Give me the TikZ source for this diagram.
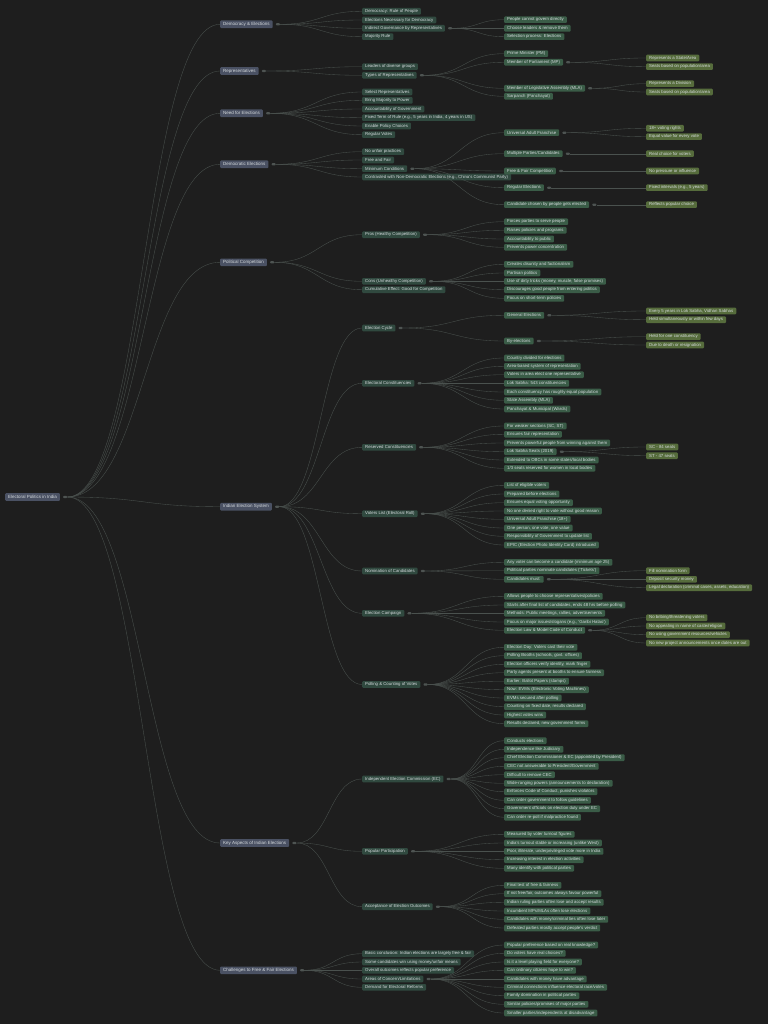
\documentclass[tikz,border=0pt]{standalone}
\usepackage{fontspec}
\setmainfont{Liberation Sans}
\usetikzlibrary{calc}
\definecolor{bg}{HTML}{1E1E1E}
\definecolor{c1}{HTML}{4A5163}
\definecolor{c2}{HTML}{30493F}
\definecolor{c3}{HTML}{3A5C47}
\definecolor{c4}{HTML}{566C3C}
\definecolor{txt}{HTML}{D4D9DC}
\definecolor{edgec}{HTML}{4A514E}
\definecolor{mkc}{HTML}{4E5452}
\newcommand\mmbranch[2]{%
  \node[mk] (m#1) at ([xshift=5pt]#1.east) {};
  \foreach \kid in {#2}{\draw[edge] let \p1=(m#1.east), \p2=(\kid.west) in (\p1) .. controls ({(\x1+\x2)/2},\y1) and ({(\x1+\x2)/2},\y2) .. (\p2);}}
\tikzset{
  base/.style={rounded corners=1pt, inner xsep=3pt, inner ysep=0pt, minimum height=6.6pt, text=txt, font=\fontsize{4.3}{4.5}\selectfont, anchor=west},
  l1/.style={base, fill=c1, minimum height=7.6pt, font=\fontsize{4.5}{4.7}\selectfont},
  l2/.style={base, fill=c2},
  l3/.style={base, fill=c3},
  l4/.style={base, fill=c4},
  mk/.style={fill=mkc, rounded corners=0.8pt, minimum width=4pt, minimum height=2.2pt, inner sep=0pt},
  edge/.style={draw=edgec, line width=0.35pt}
}
\begin{document}
\begin{tikzpicture}[x=1pt,y=-1pt]
\fill[bg] (0,0) rectangle (768,1024);
% root
\node[l1] (R) at (5,497) {Electoral Politics in India};
% level 1
\node[l1] (A) at (220,24.3) {Democracy \& Elections};
\node[l1] (B) at (220,71) {Representatives};
\node[l1] (C) at (220,113.3) {Need for Elections};
\node[l1] (D) at (220,164.3) {Democratic Elections};
\node[l1] (E) at (220,262.3) {Political Competition};
\node[l1] (F) at (220,506.7) {Indian Election System};
\node[l1] (G) at (220,843) {Key Aspects of Indian Elections};
\node[l1] (H) at (220,970.3) {Challenges to Free \& Fair Elections};
% A
\node[l2] (a1) at (362,11.3) {Democracy: Rule of People};
\node[l2] (a2) at (362,20) {Elections Necessary for Democracy};
\node[l2] (a3) at (362,28.3) {Indirect Governance by Representatives};
\node[l2] (a4) at (362,36.7) {Majority Rule};
\node[l3] (a31) at (504,19.7) {People cannot govern directly};
\node[l3] (a32) at (504,28.3) {Choose leaders \& remove them};
\node[l3] (a33) at (504,36.7) {Selection process: Elections};
% B
\node[l2] (b1) at (362,66.7) {Leaders of diverse groups};
\node[l2] (b2) at (362,75.3) {Types of Representatives};
\node[l3] (b21) at (504,53.7) {Prime Minister (PM)};
\node[l3] (b22) at (504,62.3) {Member of Parliament (MP)};
\node[l3] (b23) at (504,88.3) {Member of Legislative Assembly (MLA)};
\node[l3] (b24) at (504,96.3) {Sarpanch (Panchayat)};
\node[l4] (b221) at (646,58) {Represents a State/Area};
\node[l4] (b222) at (646,66.7) {Seats based on population/area};
\node[l4] (b231) at (646,83.7) {Represents a Division};
\node[l4] (b232) at (646,92) {Seats based on population/area};
% C
\node[l2] (c1) at (362,92) {Select Representatives};
\node[l2] (c2) at (362,100.3) {Bring Majority to Power};
\node[l2] (c3) at (362,109) {Accountability of Government};
\node[l2] (c4) at (362,117.7) {Fixed Term of Rule (e.g., 5 years in India, 4 years in US)};
\node[l2] (c5) at (362,126) {Enable Policy Choices};
\node[l2] (c6) at (362,134.7) {Regular Votes};
% D
\node[l2] (d1) at (362,151.7) {No unfair practices};
\node[l2] (d2) at (362,160) {Free and Fair};
\node[l2] (d3) at (362,168.7) {Minimum Conditions};
\node[l2] (d4) at (362,177) {Contrasted with Non-Democratic Elections (e.g., China's Communist Party)};
\node[l3] (d31) at (504,132.7) {Universal Adult Franchise};
\node[l3] (d32) at (504,153.7) {Multiple Parties/Candidates};
\node[l3] (d33) at (504,171) {Free \& Fair Competition};
\node[l3] (d34) at (504,187.7) {Regular Elections};
\node[l3] (d35) at (504,204.7) {Candidate chosen by people gets elected};
\node[l4] (d311) at (646,128.3) {18+ voting rights};
\node[l4] (d312) at (646,136.7) {Equal value for every vote};
\node[l4] (d321) at (646,153.7) {Real choice for voters};
\node[l4] (d331) at (646,171) {No pressure or influence};
\node[l4] (d341) at (646,187.7) {Fixed intervals (e.g., 5 years)};
\node[l4] (d351) at (646,204.7) {Reflects popular choice};
% E
\node[l2] (e1) at (362,234.7) {Pros (Healthy Competition)};
\node[l2] (e2) at (362,281.3) {Cons (Unhealthy Competition)};
\node[l2] (e3) at (362,289.7) {Cumulative Effect: Good for Competition};
\node[l3] (e11) at (504,221.7) {Forces parties to serve people};
\node[l3] (e12) at (504,230.3) {Raises policies and programs};
\node[l3] (e13) at (504,239) {Accountability to public};
\node[l3] (e14) at (504,247.3) {Prevents power concentration};
\node[l3] (e21) at (504,264.3) {Creates disunity and factionalism};
\node[l3] (e22) at (504,273) {Partisan politics};
\node[l3] (e23) at (504,281.3) {Use of dirty tricks (money, muscle, false promises)};
\node[l3] (e24) at (504,289.7) {Discourages good people from entering politics};
\node[l3] (e25) at (504,298.3) {Focus on short-term policies};
% F
\node[l2] (f1) at (362,328) {Election Cycle};
\node[l2] (f2) at (362,383.3) {Electoral Constituencies};
\node[l2] (f3) at (362,447.3) {Reserved Constituencies};
\node[l2] (f4) at (362,513.7) {Voters List (Electoral Roll)};
\node[l2] (f5) at (362,571) {Nomination of Candidates};
\node[l2] (f6) at (362,613.3) {Election Campaign};
\node[l2] (f7) at (362,684.5) {Polling \& Counting of Votes};
\node[l3] (f11) at (504,315.3) {General Elections};
\node[l3] (f12) at (504,341) {By-elections};
\node[l4] (f111) at (646,311) {Every 5 years in Lok Sabha, Vidhan Sabhas};
\node[l4] (f112) at (646,319.7) {Held simultaneously or within few days};
\node[l4] (f121) at (646,336.7) {Held for one constituency};
\node[l4] (f122) at (646,345) {Due to death or resignation};
\node[l3] (f21) at (504,358) {Country divided for elections};
\node[l3] (f22) at (504,366.3) {Area-based system of representation};
\node[l3] (f23) at (504,374.7) {Voters in area elect one representative};
\node[l3] (f24) at (504,383.3) {Lok Sabha: 543 constituencies};
\node[l3] (f25) at (504,392) {Each constituency has roughly equal population};
\node[l3] (f26) at (504,400.3) {State Assembly (MLA)};
\node[l3] (f27) at (504,409) {Panchayat \& Municipal (Wards)};
\node[l3] (f31) at (504,426) {For weaker sections (SC, ST)};
\node[l3] (f32) at (504,434.3) {Ensures fair representation};
\node[l3] (f33) at (504,443) {Prevents powerful people from winning against them};
\node[l3] (f34) at (504,451.7) {Lok Sabha Seats (2019)};
\node[l3] (f35) at (504,460) {Extended to OBCs in some states/local bodies};
\node[l3] (f36) at (504,468.3) {1/3 seats reserved for women in local bodies};
\node[l4] (f341) at (646,447) {SC - 84 seats};
\node[l4] (f342) at (646,455.7) {ST - 47 seats};
\node[l3] (f41) at (504,485.3) {List of eligible voters};
\node[l3] (f42) at (504,494) {Prepared before elections};
\node[l3] (f43) at (504,502.7) {Ensures equal voting opportunity};
\node[l3] (f44) at (504,511) {No one denied right to vote without good reason};
\node[l3] (f45) at (504,519.3) {Universal Adult Franchise (18+)};
\node[l3] (f46) at (504,528) {One person, one vote, one value};
\node[l3] (f47) at (504,536.3) {Responsibility of Government to update list};
\node[l3] (f48) at (504,545) {EPIC (Election Photo Identity Card) introduced};
\node[l3] (f51) at (504,562.3) {Any voter can become a candidate (minimum age 25)};
\node[l3] (f52) at (504,570.7) {Political parties nominate candidates (`Tickets')};
\node[l3] (f53) at (504,579.3) {Candidates must:};
\node[l4] (f531) at (646,570.7) {Fill nomination form};
\node[l4] (f532) at (646,579.3) {Deposit security money};
\node[l4] (f533) at (646,587.7) {Legal declaration (criminal cases, assets, education)};
\node[l3] (f61) at (504,596.3) {Allows people to choose representatives/policies};
\node[l3] (f62) at (504,605) {Starts after final list of candidates, ends 48 hrs before polling};
\node[l3] (f63) at (504,613.3) {Methods: Public meetings, rallies, advertisements};
\node[l3] (f64) at (504,622) {Focus on major issues/slogans (e.g., `Garibi Hatao')};
\node[l3] (f65) at (504,630.3) {Election Law \& Model Code of Conduct};
\node[l4] (f651) at (646,617.7) {No bribing/threatening voters};
\node[l4] (f652) at (646,626) {No appealing in name of caste/religion};
\node[l4] (f653) at (646,634.7) {No using government resources/vehicles};
\node[l4] (f654) at (646,643) {No new project announcements once dates are out};
\node[l3] (f71) at (504,647.3) {Election Day: Voters cast their vote};
\node[l3] (f72) at (504,655.7) {Polling Booths (schools, govt. offices)};
\node[l3] (f73) at (504,664.3) {Election officers verify identity, mark finger};
\node[l3] (f74) at (504,672.7) {Party agents present at booths to ensure fairness};
\node[l3] (f75) at (504,681.2) {Earlier: Ballot Papers (stamps)};
\node[l3] (f76) at (504,689.7) {Now: EVMs (Electronic Voting Machines)};
\node[l3] (f77) at (504,698) {EVMs secured after polling};
\node[l3] (f78) at (504,706.7) {Counting on fixed date, results declared};
\node[l3] (f79) at (504,715) {Highest votes wins};
\node[l3] (f70) at (504,723.7) {Results declared, new government forms};
% G
\node[l2] (g1) at (362,779) {Independent Election Commission (EC)};
\node[l2] (g2) at (362,851.3) {Popular Participation};
\node[l2] (g3) at (362,906.7) {Acceptance of Election Outcomes};
\node[l3] (g11) at (504,740.7) {Conducts elections};
\node[l3] (g12) at (504,749.3) {Independence like Judiciary};
\node[l3] (g13) at (504,757.7) {Chief Election Commissioner \& EC (appointed by President)};
\node[l3] (g14) at (504,766.3) {CEC not answerable to President/Government};
\node[l3] (g15) at (504,774.7) {Difficult to remove CEC};
\node[l3] (g16) at (504,783.3) {Wide-ranging powers (announcements to declaration)};
\node[l3] (g17) at (504,791.7) {Enforces Code of Conduct, punishes violators};
\node[l3] (g18) at (504,800.3) {Can order government to follow guidelines};
\node[l3] (g19) at (504,808.7) {Government officials on election duty under EC};
\node[l3] (g10) at (504,817.3) {Can order re-poll if malpractice found};
\node[l3] (g21) at (504,834.3) {Measured by voter turnout figures};
\node[l3] (g22) at (504,843) {India's turnout stable or increasing (unlike West)};
\node[l3] (g23) at (504,851.3) {Poor, illiterate, underprivileged vote more in India};
\node[l3] (g24) at (504,859.7) {Increasing interest in election activities};
\node[l3] (g25) at (504,868.3) {Many identify with political parties};
\node[l3] (g31) at (504,885.3) {Final test of free \& fairness};
\node[l3] (g32) at (504,893.7) {If not free/fair, outcomes always favour powerful};
\node[l3] (g33) at (504,902.3) {Indian ruling parties often lose and accept results};
\node[l3] (g34) at (504,911) {Incumbent MPs/MLAs often lose elections};
\node[l3] (g35) at (504,919.3) {Candidates with money/criminal ties often lose later};
\node[l3] (g36) at (504,928) {Defeated parties mostly accept people's verdict};
% H
\node[l2] (h1) at (362,953.7) {Basic conclusion: Indian elections are largely free \& fair};
\node[l2] (h2) at (362,962) {Some candidates win using money/unfair means};
\node[l2] (h3) at (362,970.3) {Overall outcomes reflects popular preference};
\node[l2] (h4) at (362,979) {Areas of Concern/Limitations};
\node[l2] (h5) at (362,987.3) {Demand for Electoral Reforms};
\node[l3] (h41) at (504,945) {Popular preference based on real knowledge?};
\node[l3] (h42) at (504,953.3) {Do voters have real choices?};
\node[l3] (h43) at (504,962) {Is it a level playing field for everyone?};
\node[l3] (h44) at (504,970.3) {Can ordinary citizens hope to win?};
\node[l3] (h45) at (504,979) {Candidates with money have advantage};
\node[l3] (h46) at (504,987.3) {Criminal connections influence electoral race/votes};
\node[l3] (h47) at (504,995.7) {Family domination in political parties};
\node[l3] (h48) at (504,1004.3) {Similar policies/promises of major parties};
\node[l3] (h49) at (504,1013) {Smaller parties/independents at disadvantage};
% connectors
\mmbranch{R}{A,B,C,D,E,F,G,H}
\mmbranch{A}{a1,a2,a3,a4}
\mmbranch{a3}{a31,a32,a33}
\mmbranch{B}{b1,b2}
\mmbranch{b2}{b21,b22,b23,b24}
\mmbranch{b22}{b221,b222}
\mmbranch{b23}{b231,b232}
\mmbranch{C}{c1,c2,c3,c4,c5,c6}
\mmbranch{D}{d1,d2,d3,d4}
\mmbranch{d3}{d31,d32,d33,d34,d35}
\mmbranch{d31}{d311,d312}
\mmbranch{d32}{d321}
\mmbranch{d33}{d331}
\mmbranch{d34}{d341}
\mmbranch{d35}{d351}
\mmbranch{E}{e1,e2,e3}
\mmbranch{e1}{e11,e12,e13,e14}
\mmbranch{e2}{e21,e22,e23,e24,e25}
\mmbranch{F}{f1,f2,f3,f4,f5,f6,f7}
\mmbranch{f1}{f11,f12}
\mmbranch{f11}{f111,f112}
\mmbranch{f12}{f121,f122}
\mmbranch{f2}{f21,f22,f23,f24,f25,f26,f27}
\mmbranch{f3}{f31,f32,f33,f34,f35,f36}
\mmbranch{f34}{f341,f342}
\mmbranch{f4}{f41,f42,f43,f44,f45,f46,f47,f48}
\mmbranch{f5}{f51,f52,f53}
\mmbranch{f53}{f531,f532,f533}
\mmbranch{f6}{f61,f62,f63,f64,f65}
\mmbranch{f65}{f651,f652,f653,f654}
\mmbranch{f7}{f71,f72,f73,f74,f75,f76,f77,f78,f79,f70}
\mmbranch{G}{g1,g2,g3}
\mmbranch{g1}{g11,g12,g13,g14,g15,g16,g17,g18,g19,g10}
\mmbranch{g2}{g21,g22,g23,g24,g25}
\mmbranch{g3}{g31,g32,g33,g34,g35,g36}
\mmbranch{H}{h1,h2,h3,h4,h5}
\mmbranch{h4}{h41,h42,h43,h44,h45,h46,h47,h48,h49}
\end{tikzpicture}
\end{document}
